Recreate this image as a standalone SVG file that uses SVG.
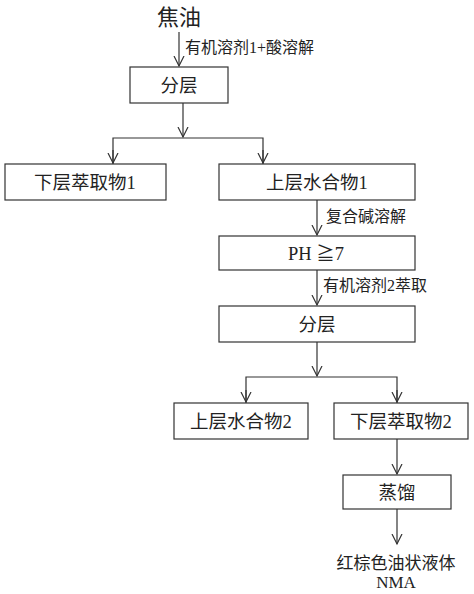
<svg xmlns="http://www.w3.org/2000/svg" width="474" height="594" viewBox="0 0 474 594">
<style>
.box{fill:#fff;stroke:#333;stroke-width:1.2}
.t{font-family:"Liberation Serif","Noto Sans CJK SC",serif;fill:#222;text-anchor:middle}
.bt{font-size:18.5px}
.lb{font-family:"Liberation Serif","Noto Sans CJK SC",serif;fill:#222;font-size:16px}
.ln{fill:none;stroke:#333;stroke-width:1.2}
</style>
<defs>
<marker id="ah" viewBox="0 0 12 12" refX="10" refY="6" markerWidth="12" markerHeight="12" markerUnits="userSpaceOnUse" orient="auto">
<path d="M0,1 L10,6 L0,11" fill="none" stroke="#333" stroke-width="1.2"/>
</marker>
</defs>
<rect width="474" height="594" fill="#fff"/>
<g id="connectors">
<line class="ln" x1="179" y1="32" x2="179" y2="66" marker-end="url(#ah)"/>
<line class="ln" x1="183" y1="103" x2="183" y2="137" marker-end="url(#ah)"/>
<polyline class="ln" points="113,164 113,138 263,138 263,164"/>
<line class="ln" x1="113" y1="150" x2="113" y2="163" marker-end="url(#ah)"/>
<line class="ln" x1="263" y1="150" x2="263" y2="163" marker-end="url(#ah)"/>
<line class="ln" x1="317" y1="200" x2="317" y2="235" marker-end="url(#ah)"/>
<line class="ln" x1="317" y1="270" x2="317" y2="305" marker-end="url(#ah)"/>
<line class="ln" x1="317" y1="342" x2="317" y2="376" marker-end="url(#ah)"/>
<polyline class="ln" points="246,403 246,377 397,377 397,403"/>
<line class="ln" x1="246" y1="390" x2="246" y2="402" marker-end="url(#ah)"/>
<line class="ln" x1="397" y1="390" x2="397" y2="402" marker-end="url(#ah)"/>
<line class="ln" x1="397" y1="439" x2="397" y2="474" marker-end="url(#ah)"/>
<line class="ln" x1="397" y1="509" x2="397" y2="544" marker-end="url(#ah)"/>
<text class="lb" x="185" y="53">有机溶剂1+酸溶解</text>
<text class="lb" x="326" y="222">复合碱溶解</text>
<text class="lb" x="323" y="291">有机溶剂2萃取</text>
</g>
<g id="n-jiaoyou"><text class="t" x="179" y="25" font-size="22">焦油</text></g>
<g id="n-fenceng1"><rect class="box" x="130" y="67" width="98" height="36"/><text class="t bt" x="179" y="92">分层</text></g>
<g id="n-xiaceng1"><rect class="box" x="5" y="164" width="161" height="36"/><text class="t bt" x="85" y="189">下层萃取物1</text></g>
<g id="n-shangceng1"><rect class="box" x="219" y="164" width="196" height="36"/><text class="t bt" x="317" y="189">上层水合物1</text></g>
<g id="n-ph"><rect class="box" x="219" y="236" width="196" height="34"/><text class="t bt" x="316" y="260">PH ≧7</text></g>
<g id="n-fenceng2"><rect class="box" x="219" y="306" width="196" height="36"/><text class="t bt" x="317" y="331">分层</text></g>
<g id="n-shangceng2"><rect class="box" x="174" y="403" width="134" height="36"/><text class="t bt" x="241" y="428">上层水合物2</text></g>
<g id="n-xiaceng2"><rect class="box" x="334" y="403" width="134" height="36"/><text class="t bt" x="401" y="428">下层萃取物2</text></g>
<g id="n-zhengliu"><rect class="box" x="343" y="475" width="108" height="34"/><text class="t bt" x="397" y="499">蒸馏</text></g>
<g id="n-nma"><text class="t" x="396" y="569" font-size="17">红棕色油状液体</text><text class="t" x="396" y="588" font-size="17">NMA</text></g>
</svg>
